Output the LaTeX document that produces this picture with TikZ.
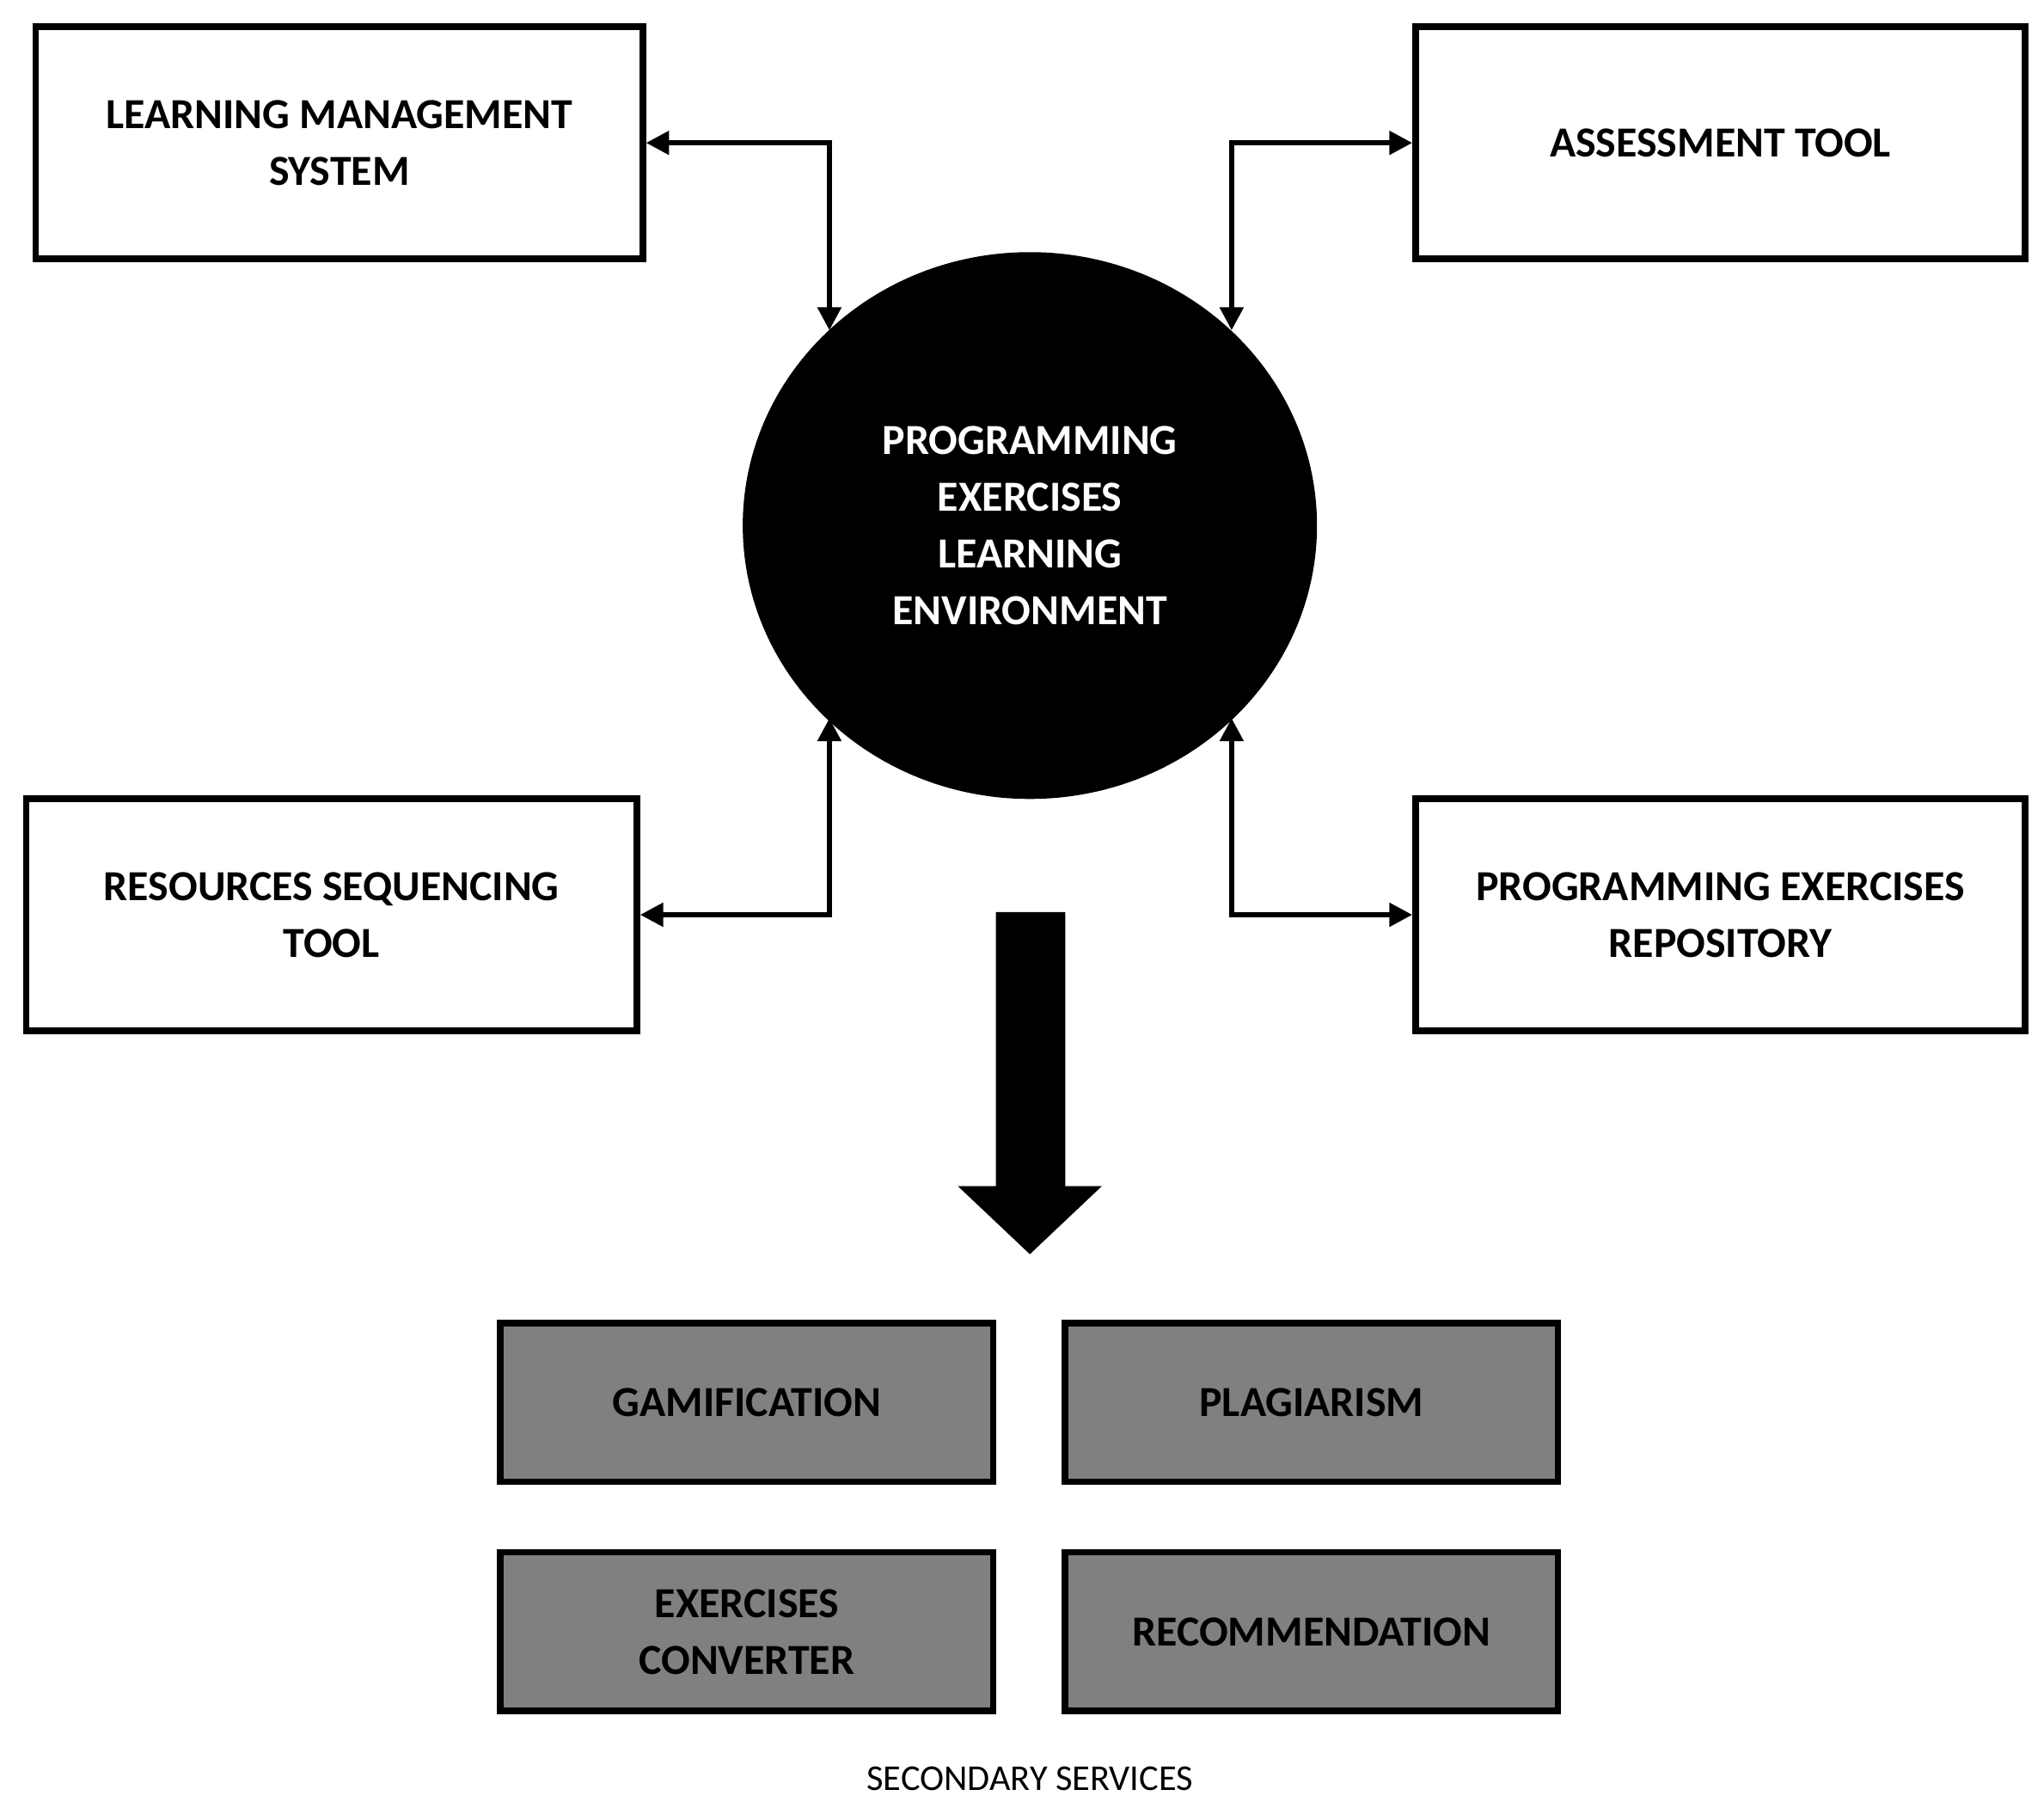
\documentclass[tikz,border=0pt]{standalone}
\usepackage{fontspec}
\setmainfont{Carlito}
\usetikzlibrary{arrows.meta,shapes.geometric}
\begin{document}
\begin{tikzpicture}[x=0.01cm,y=-0.01cm,
  box/.style={draw,line width=1.4pt,rectangle,inner sep=0pt,align=center,font=\fontsize{9.3}{12.3}\selectfont\bfseries},
  gbox/.style={box,fill=gray!100!white,fill=black!50,minimum width=376\pgflinewidth*0+3.76cm,minimum height=1.21cm},
  conn/.style={line width=1.1pt,{Triangle[length=5pt,width=5pt]}-{Triangle[length=5pt,width=5pt]}}]
\useasboundingbox (0,0) rectangle (1560,1375);
\node[box,minimum width=4.63cm,minimum height=1.77cm] (lms) at (259,109) {LEARNING MANAGEMENT\\SYSTEM};
\node[box,minimum width=4.65cm,minimum height=1.77cm] (at) at (1313,109) {ASSESSMENT TOOL};
\node[box,minimum width=4.66cm,minimum height=1.77cm] (rst) at (253,698) {RESOURCES SEQUENCING\\TOOL};
\node[box,minimum width=4.65cm,minimum height=1.77cm] (per) at (1313,698) {PROGRAMMING EXERCISES\\REPOSITORY};
\node[ellipse,fill=black,minimum width=4.38cm,minimum height=4.17cm,text=white,align=center,font=\fontsize{9.3}{12.3}\selectfont\bfseries] (c) at (786,401) {PROGRAMMING\\EXERCISES\\LEARNING\\ENVIRONMENT};
\coordinate (c1) at (633,252); \coordinate (c2) at (940,252);
\coordinate (c3) at (633,548); \coordinate (c4) at (940,548);
\draw[conn] (lms.east) -- (633,109) -- (c1);
\draw[conn] (at.west) -- (940,109) -- (c2);
\draw[conn] (rst.east) -- (633,698) -- (c3);
\draw[conn] (per.west) -- (940,698) -- (c4);
\fill (760,696) -- (813,696) -- (813,905) -- (841,905) -- (786,957) -- (731,905) -- (760,905) -- cycle;
\node[gbox] (g) at (570,1070) {GAMIFICATION};
\node[gbox] (p) at (1001,1070) {PLAGIARISM};
\node[gbox] (e) at (570,1245) {EXERCISES\\CONVERTER};
\node[gbox] (r) at (1001,1245) {RECOMMENDATION};
\node[font=\fontsize{7.9}{9}\selectfont] (s) at (786,1357) {SECONDARY SERVICES};
\end{tikzpicture}
\end{document}
